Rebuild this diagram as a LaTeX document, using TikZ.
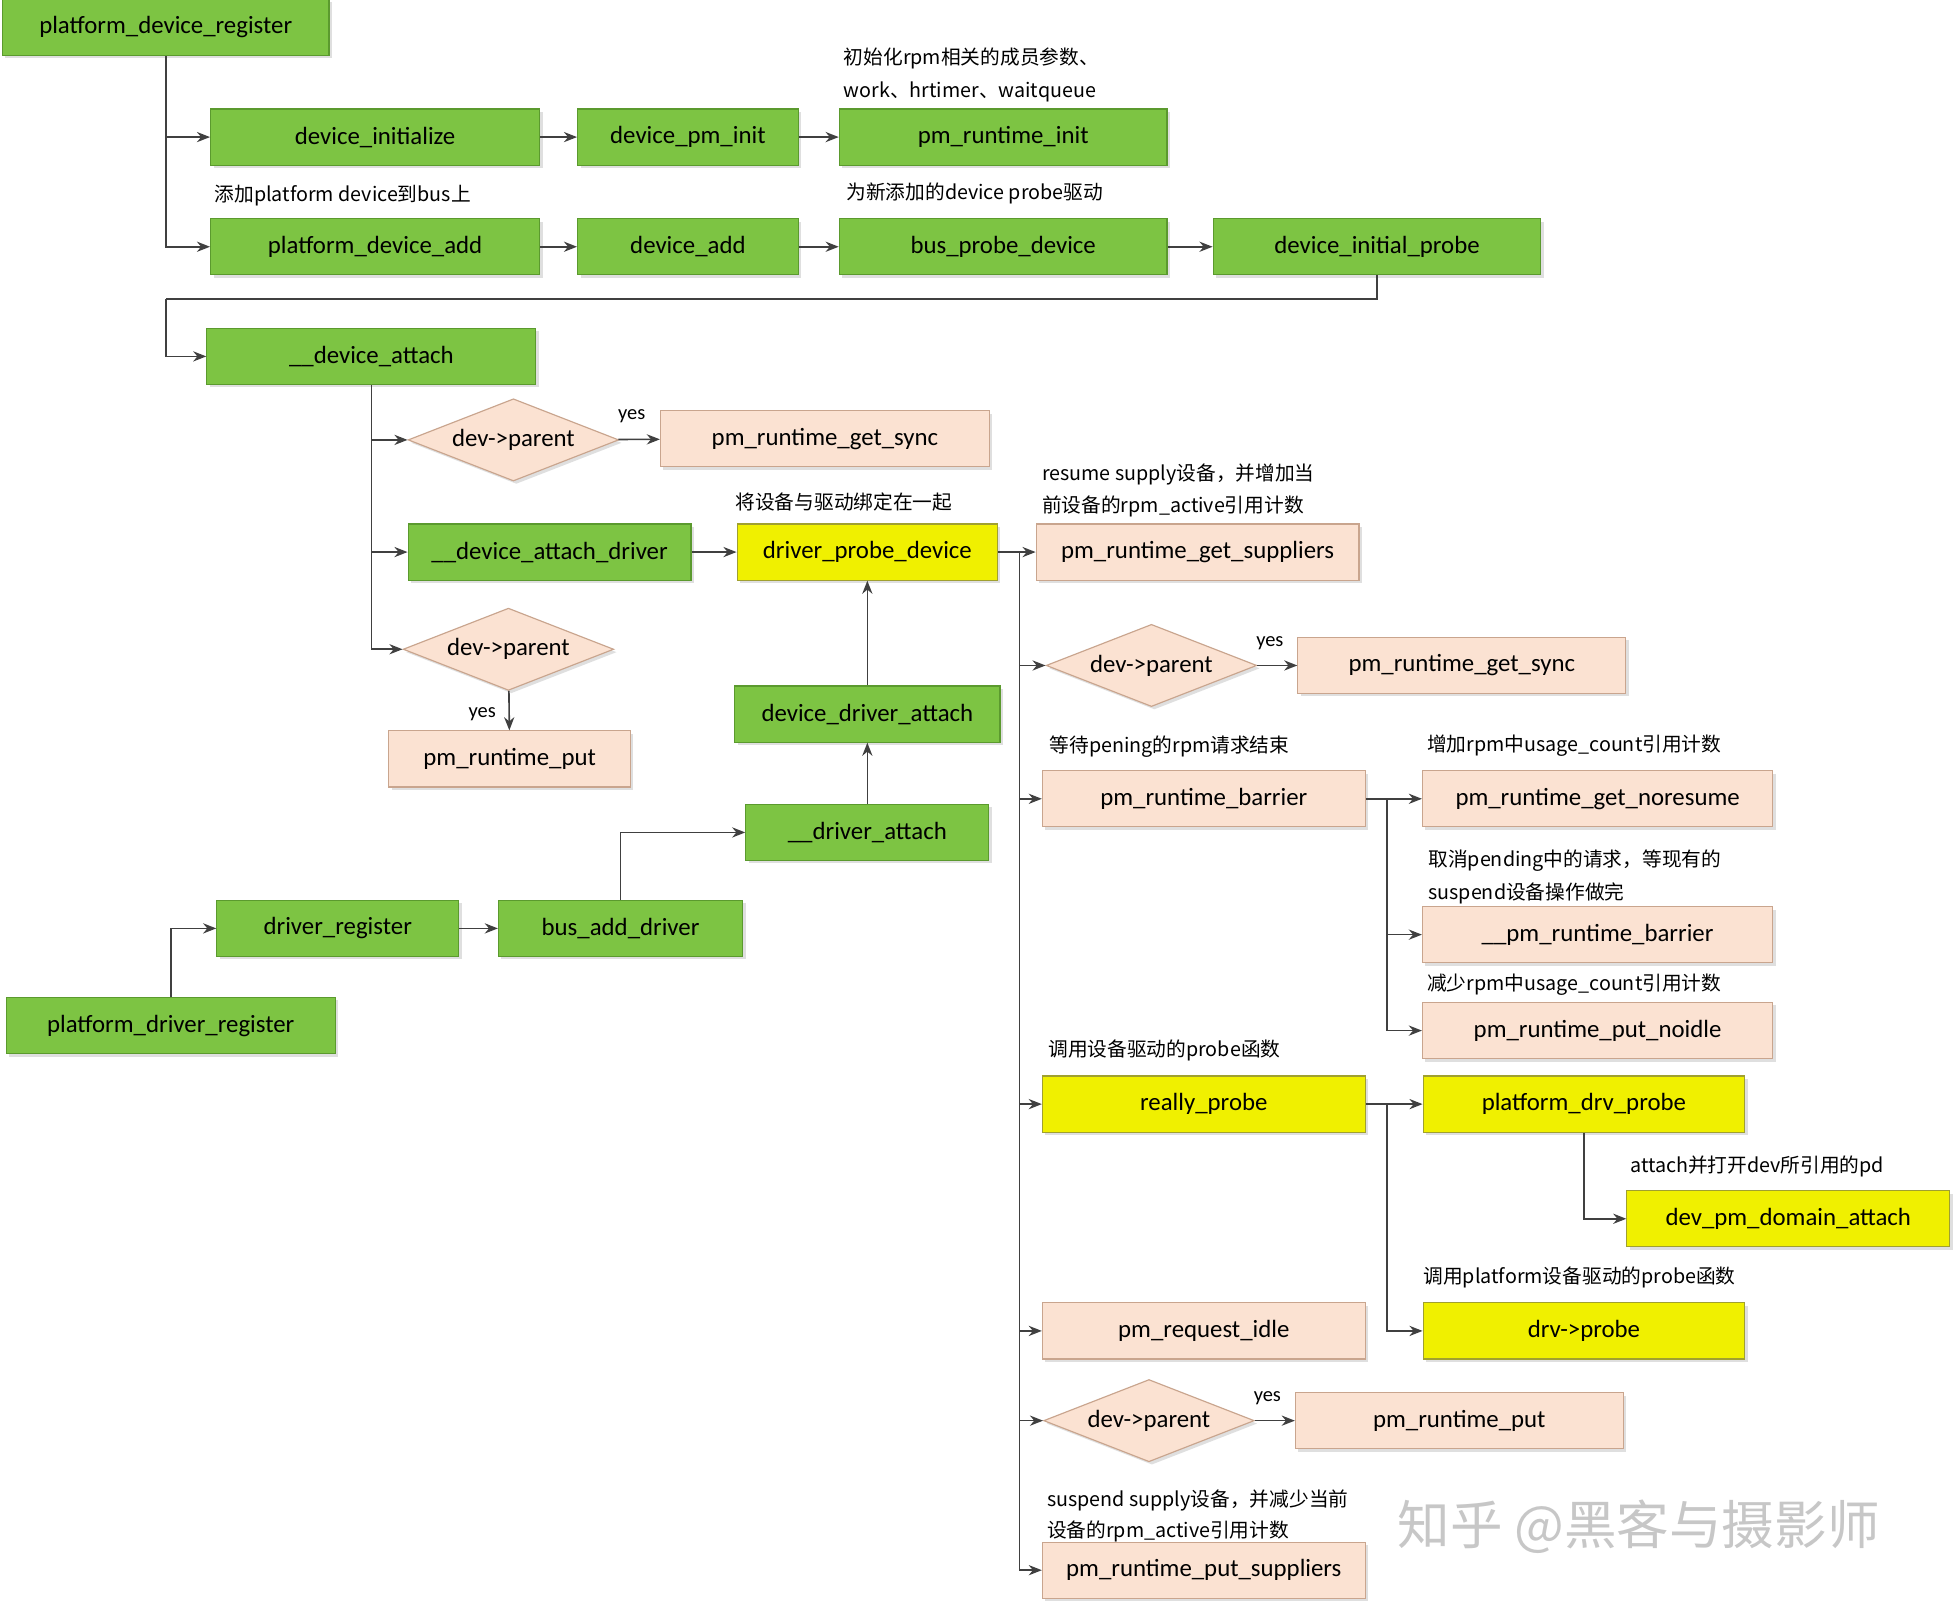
\documentclass[tikz,border=0pt]{standalone}
\usepackage{fontspec}
\setmainfont{Carlito}
\newfontfamily\cjk{Noto Sans CJK SC}
\usetikzlibrary{shapes.geometric,arrows.meta,shadows}
\definecolor{gfill}{HTML}{7DC443}
\definecolor{gdraw}{HTML}{5B9A2E}
\definecolor{pfill}{HTML}{FBE2D2}
\definecolor{pdraw}{HTML}{C9A58E}
\definecolor{yfill}{HTML}{F0F000}
\definecolor{ydraw}{HTML}{A0A030}
\definecolor{lc}{HTML}{404040}
\tikzset{
 bx/.style={rectangle,minimum height=1.35cm,font=\fontsize{17}{19}\selectfont,line width=0.8pt,inner sep=2pt,
   drop shadow={opacity=0.25,shadow xshift=2pt,shadow yshift=-2pt}},
 gb/.style={bx,fill=gfill,draw=gdraw},
 pb/.style={bx,fill=pfill,draw=pdraw},
 yb/.style={bx,fill=yfill,draw=ydraw},
 dm/.style={diamond,aspect=2.6,inner sep=1pt,fill=pfill,draw=pdraw,line width=0.8pt,font=\fontsize{17}{19}\selectfont,
   minimum width=5.07cm,minimum height=1.98cm,drop shadow={opacity=0.25,shadow xshift=2pt,shadow yshift=-2pt}},
 lb/.style={anchor=west,font=\cjk\fontsize{13.5}{15}\selectfont,inner sep=0pt},
 yl/.style={font=\fontsize{14}{16}\selectfont,inner sep=0pt},
 arr/.style={-{Stealth[length=9pt,width=7pt]},draw=lc,line width=1.1pt},
 ln/.style={draw=lc,line width=1.1pt}
}
\begin{document}
\begin{tikzpicture}[x=0.03cm,y=-0.03cm]
\useasboundingbox[fill=white] (0,0) rectangle (1568,1288);
% nodes
\node[gb,minimum width=262*0.03cm] (pdr) at (133,22) {platform\_device\_register};
\node[gb,minimum width=264*0.03cm] (di) at (301,110) {device\_initialize};
\node[gb,minimum width=177*0.03cm] (dpi) at (552,110) {device\_pm\_init};
\node[gb,minimum width=263*0.03cm] (pri) at (805,110) {pm\_runtime\_init};
\node[gb,minimum width=264*0.03cm] (pda) at (301,198) {platform\_device\_add};
\node[gb,minimum width=177*0.03cm] (da) at (552,198) {device\_add};
\node[gb,minimum width=263*0.03cm] (bpd) at (805,198) {bus\_probe\_device};
\node[gb,minimum width=263*0.03cm] (dip) at (1105,198) {device\_initial\_probe};
\node[gb,minimum width=264*0.03cm] (datt) at (298,286) {\_\_device\_attach};
\node[dm] (d1) at (412,353) {dev->parent};
\node[pb,minimum width=264*0.03cm] (pgs) at (662,352) {pm\_runtime\_get\_sync};
\node[gb,minimum width=227*0.03cm] (dad) at (441,443) {\_\_device\_attach\_driver};
\node[yb,minimum width=209*0.03cm] (dpd) at (696,443) {driver\_probe\_device};
\node[pb,minimum width=259*0.03cm] (pgsup) at (961,443) {pm\_runtime\_get\_suppliers};
\node[dm] (d2) at (408,521) {dev->parent};
\node[pb,minimum width=194*0.03cm] (ppt) at (409,609) {pm\_runtime\_put};
\node[gb,minimum width=213*0.03cm] (dda) at (696,573) {device\_driver\_attach};
\node[gb,minimum width=195*0.03cm] (dra) at (696,668) {\_\_driver\_attach};
\node[gb,minimum width=194*0.03cm] (dreg) at (271,745) {driver\_register};
\node[gb,minimum width=196*0.03cm] (bad) at (498,745) {bus\_add\_driver};
\node[gb,minimum width=264*0.03cm] (pdreg) at (137,823) {platform\_driver\_register};
\node[dm] (d3) at (924,534) {dev->parent};
\node[pb,minimum width=263*0.03cm] (pgs2) at (1173,534) {pm\_runtime\_get\_sync};
\node[pb,minimum width=259*0.03cm] (prb) at (966,641) {pm\_runtime\_barrier};
\node[pb,minimum width=281*0.03cm] (pgn) at (1282,641) {pm\_runtime\_get\_noresume};
\node[pb,minimum width=281*0.03cm] (pbar) at (1282,750) {\_\_pm\_runtime\_barrier};
\node[pb,minimum width=281*0.03cm] (pni) at (1282,827) {pm\_runtime\_put\_noidle};
\node[yb,minimum width=259*0.03cm] (rp) at (966,886) {really\_probe};
\node[yb,minimum width=258*0.03cm] (pdp) at (1271,886) {platform\_drv\_probe};
\node[yb,minimum width=259*0.03cm] (dpda) at (1435,978) {dev\_pm\_domain\_attach};
\node[yb,minimum width=258*0.03cm] (drvp) at (1271,1068) {drv->probe};
\node[pb,minimum width=259*0.03cm] (pri2) at (966,1068) {pm\_request\_idle};
\node[dm] (d4) at (922,1140) {dev->parent};
\node[pb,minimum width=263*0.03cm] (ppt2) at (1171,1140) {pm\_runtime\_put};
\node[pb,minimum width=259*0.03cm] (pps) at (966,1260) {pm\_runtime\_put\_suppliers};
% labels
\node[lb] (l1) at (677,47) {初始化rpm相关的成员参数、};
\node[lb] (l2) at (677,74) {work、hrtimer、waitqueue};
\node[lb] (l3) at (172,157) {添加platform device到bus上};
\node[lb] (l4) at (679,155) {为新添加的device probe驱动};
\node[lb] (l5) at (590,403) {将设备与驱动绑定在一起};
\node[lb] (l6) at (836,381) {resume supply设备，并增加当};
\node[lb] (l7) at (836,406) {前设备的rpm\_active引用计数};
\node[lb] (l8) at (842,599) {等待pening的rpm请求结束};
\node[lb] (l9) at (1145,598) {增加rpm中usage\_count引用计数};
\node[lb] (l10) at (1146,691) {取消pending中的请求，等现有的};
\node[lb] (l11) at (1146,717) {suspend设备操作做完};
\node[lb] (l12) at (1145,790) {减少rpm中usage\_count引用计数};
\node[lb] (l13) at (841,843) {调用设备驱动的probe函数};
\node[lb] (l14) at (1308,936) {attach并打开dev所引用的pd};
\node[lb] (l15) at (1142,1025) {调用platform设备驱动的probe函数};
\node[lb] (l16) at (840,1204) {suspend supply设备，并减少当前};
\node[lb] (l17) at (840,1229) {设备的rpm\_active引用计数};
\node[yl] (y1) at (507,334) {yes};
\node[yl] (y2) at (387,573) {yes};
\node[yl] (y3) at (1019,516) {yes};
\node[yl] (y4) at (1017,1122) {yes};
\node[anchor=center,font=\cjk\fontsize{36}{40}\selectfont,text=black!22] (wm) at (1315,1225) {知乎 @黑客与摄影师};
% connectors
\draw[arr] (pdr.south) |- (di.west);
\draw[arr] (pdr.south) |- (pda.west);
\draw[arr] (di) -- (dpi); \draw[arr] (dpi) -- (pri);
\draw[arr] (pda) -- (da); \draw[arr] (da) -- (bpd); \draw[arr] (bpd) -- (dip);
\coordinate (c1) at (133,240);
\draw[ln] (dip.south) |- (c1);
\draw[arr] (c1) |- (datt.west);
\draw[arr] (datt.south) |- (d1.west);
\draw[arr] (datt.south) |- (dad.west);
\draw[arr] (datt.south) |- (d2.west);
\draw[arr] (d1) -- (pgs);
\draw[arr] (d2) -- (ppt);
\draw[arr] (dad) -- (dpd);
\draw[arr] (dpd) -- (pgsup);
\coordinate (t) at (818,443);
\draw[ln] (t) -- (818,1260);
\draw[arr] (t) |- (d3.west);
\draw[arr] (t) |- (prb.west);
\draw[arr] (t) |- (rp.west);
\draw[arr] (t) |- (pri2.west);
\draw[arr] (t) |- (d4.west);
\draw[arr] (t) |- (pps.west);
\draw[arr] (d3) -- (pgs2);
\draw[arr] (d4) -- (ppt2);
\coordinate (b) at (1113,641);
\draw[arr] (prb) -- (pgn);
\draw[arr] (b) |- (pbar.west);
\draw[arr] (b) |- (pni.west);
\coordinate (r) at (1113,886);
\draw[arr] (rp) -- (pdp);
\draw[arr] (r) |- (drvp.west);
\draw[arr] (pdp.south) |- (dpda.west);
\draw[arr] (dda) -- (dpd);
\draw[arr] (dra) -- (dda);
\draw[arr] (pdreg.north) |- (dreg.west);
\draw[arr] (dreg) -- (bad);
\draw[arr] (bad.north) |- (dra.west);
\end{tikzpicture}
\end{document}
